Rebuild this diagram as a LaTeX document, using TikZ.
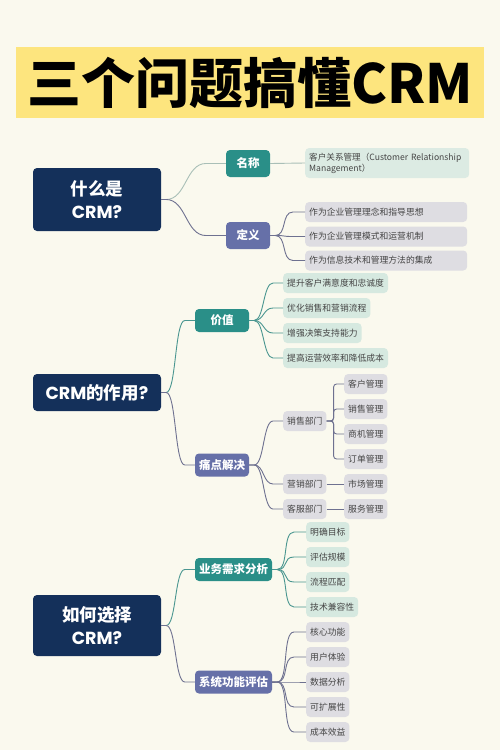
\documentclass[tikz,border=0pt]{standalone}
\usepackage{fontspec}
\setmainfont{Noto Sans CJK SC}
\newfontfamily\pop{Poppins}

\definecolor{bgcream}{HTML}{FAF9EE}
\definecolor{bandyellow}{HTML}{FDE57E}
\definecolor{navy}{HTML}{14305A}
\definecolor{tealbox}{HTML}{2A8F88}
\definecolor{purplebox}{HTML}{6670A8}
\definecolor{leafteal}{HTML}{D6E9E0}
\definecolor{leaflight}{HTML}{DCEBE3}
\definecolor{leafgrey}{HTML}{DEDDE2}
\definecolor{leaftext}{HTML}{454545}
\definecolor{lineteal}{HTML}{4A9690}
\definecolor{linepurple}{HTML}{6E7190}
\definecolor{linelight}{HTML}{A9BFB7}

\begin{document}
\begin{tikzpicture}[x=1pt,y=-1pt,
    root/.style={fill=navy, rounded corners=4pt, text=white, inner sep=0pt,
        font=\bfseries\fontsize{17.5}{23}\selectfont, align=center, minimum width=128pt},
    mainA/.style={fill=tealbox, rounded corners=4pt, text=white, inner xsep=4pt, inner ysep=0pt,
        font=\bfseries\fontsize{11.5}{13}\selectfont, minimum height=23pt},
    mainB/.style={mainA, fill=purplebox},
    leafA/.style={fill=leafteal, rounded corners=4pt, text=leaftext, inner xsep=4pt, inner ysep=0pt,
        font=\fontsize{8.8}{11}\selectfont, minimum height=20pt, anchor=west},
    leafB/.style={leafA, fill=leafgrey},
    leafL/.style={leafA, fill=leaflight, font=\fontsize{8.6}{11}\selectfont},
    lineA/.style={draw=lineteal, line width=0.9pt},
    lineB/.style={draw=linepurple, line width=0.9pt},
    lineL/.style={draw=linelight, line width=0.9pt},
    link/.style={to path={-- ++(5,0) .. controls +(#1,0) and +(-#1,0) .. ([xshift=-#1pt]\tikztotarget) -- (\tikztotarget)}},
    elbow/.style={rounded corners=3pt, to path={-- ++(7,0) |- (\tikztotarget)}}]

    % Background and title
    \fill[bgcream] (0,0) rectangle (500,750);
    \useasboundingbox (0,0) rectangle (500,750);
    \node[fill=bandyellow, minimum width=468pt, minimum height=71pt, inner sep=0pt,
        font=\bfseries\fontsize{54}{60}\selectfont] (title) at (250,82.5) {三个问题搞懂CRM};

    % Section 1: what is CRM
    \node[root, minimum height=63pt] (what) at (97,199.5) {什么是\\{\pop CRM?}};
    \node[mainA, minimum width=44pt, minimum height=27pt] (name) at (248,163.5) {名称};
    \node[mainB, minimum width=44pt, minimum height=27pt] (defn) at (248,235.5) {定义};
    \node[leafL, minimum height=30pt, text width=156pt, align=left] (name1) at (305,163)
        {客户关系管理（Customer Relationship\\Management）};
    \node[leafB, text width=154pt, align=left] (defn1) at (305,212) {作为企业管理理念和指导思想};
    \node[leafB, text width=154pt, align=left] (defn2) at (305,236.5) {作为企业管理模式和运营机制};
    \node[leafB, text width=154pt, align=left] (defn3) at (305,260.5) {作为信息技术和管理方法的集成};

    \draw[lineL, link=20] (what.east) to (name.west);
    \draw[lineB, link=20] (what.east) to (defn.west);
    \draw[lineL] (name.east) -- (name1.west);
    \draw[lineB, link=12] (defn.east) to (defn1.west);
    \draw[lineB, link=12] (defn.east) to (defn2.west);
    \draw[lineB, link=12] (defn.east) to (defn3.west);

    % Section 2: what CRM does
    \node[root, minimum height=37pt] (role) at (97,392.5) {{\pop CRM}的作用{\pop ?}};
    \node[mainA, minimum width=54pt] (value) at (222,320.5) {价值};
    \node[mainB, minimum width=54pt] (pain) at (222,465) {痛点解决};
    \node[leafA] (value1) at (283,283) {提升客户满意度和忠诚度};
    \node[leafA] (value2) at (283,308) {优化销售和营销流程};
    \node[leafA] (value3) at (283,333) {增强决策支持能力};
    \node[leafA] (value4) at (283,358) {提高运营效率和降低成本};
    \node[leafB] (sales) at (283,421) {销售部门};
    \node[leafB] (market) at (283,484) {营销部门};
    \node[leafB] (service) at (283,509) {客服部门};
    \node[leafB] (sales1) at (344,384) {客户管理};
    \node[leafB] (sales2) at (344,409) {销售管理};
    \node[leafB] (sales3) at (344,434) {商机管理};
    \node[leafB] (sales4) at (344,459) {订单管理};
    \node[leafB] (market1) at (344,484) {市场管理};
    \node[leafB] (service1) at (344,509) {服务管理};

    \draw[lineA, link=10] (role.east) to (value.west);
    \draw[lineB, link=10] (role.east) to (pain.west);
    \foreach \leaf in {value1,value2,value3,value4}
        \draw[lineA, link=10] (value.east) to (\leaf.west);
    \foreach \leaf in {sales,market,service}
        \draw[lineB, link=10] (pain.east) to (\leaf.west);
    \foreach \leaf in {sales1,sales2,sales3,sales4}
        \draw[lineB, elbow] (sales.east) to (\leaf.west);
    \draw[lineB] (market.east) -- (market1.west);
    \draw[lineB] (service.east) -- (service1.west);

    % Section 3: how to choose
    \node[root, minimum height=61pt] (choose) at (97,625.5) {如何选择\\{\pop CRM?}};
    \node[mainA] (need) at (233.5,569.5) {业务需求分析};
    \node[mainB] (func) at (233.5,682) {系统功能评估};
    \node[leafA] (need1) at (306,532) {明确目标};
    \node[leafA] (need2) at (306,557) {评估规模};
    \node[leafA] (need3) at (306,582) {流程匹配};
    \node[leafA] (need4) at (306,607) {技术兼容性};
    \node[leafB] (func1) at (306,632) {核心功能};
    \node[leafB] (func2) at (306,657) {用户体验};
    \node[leafB] (func3) at (306,682) {数据分析};
    \node[leafB] (func4) at (306,707) {可扩展性};
    \node[leafB] (func5) at (306,732) {成本效益};

    \draw[lineA, link=10] (choose.east) to (need.west);
    \draw[lineB, link=10] (choose.east) to (func.west);
    \foreach \leaf in {need1,need2,need3,need4}
        \draw[lineA, link=12] (need.east) to (\leaf.west);
    \foreach \leaf in {func1,func2,func3,func4,func5}
        \draw[lineB, link=12] (func.east) to (\leaf.west);
\end{tikzpicture}
\end{document}
